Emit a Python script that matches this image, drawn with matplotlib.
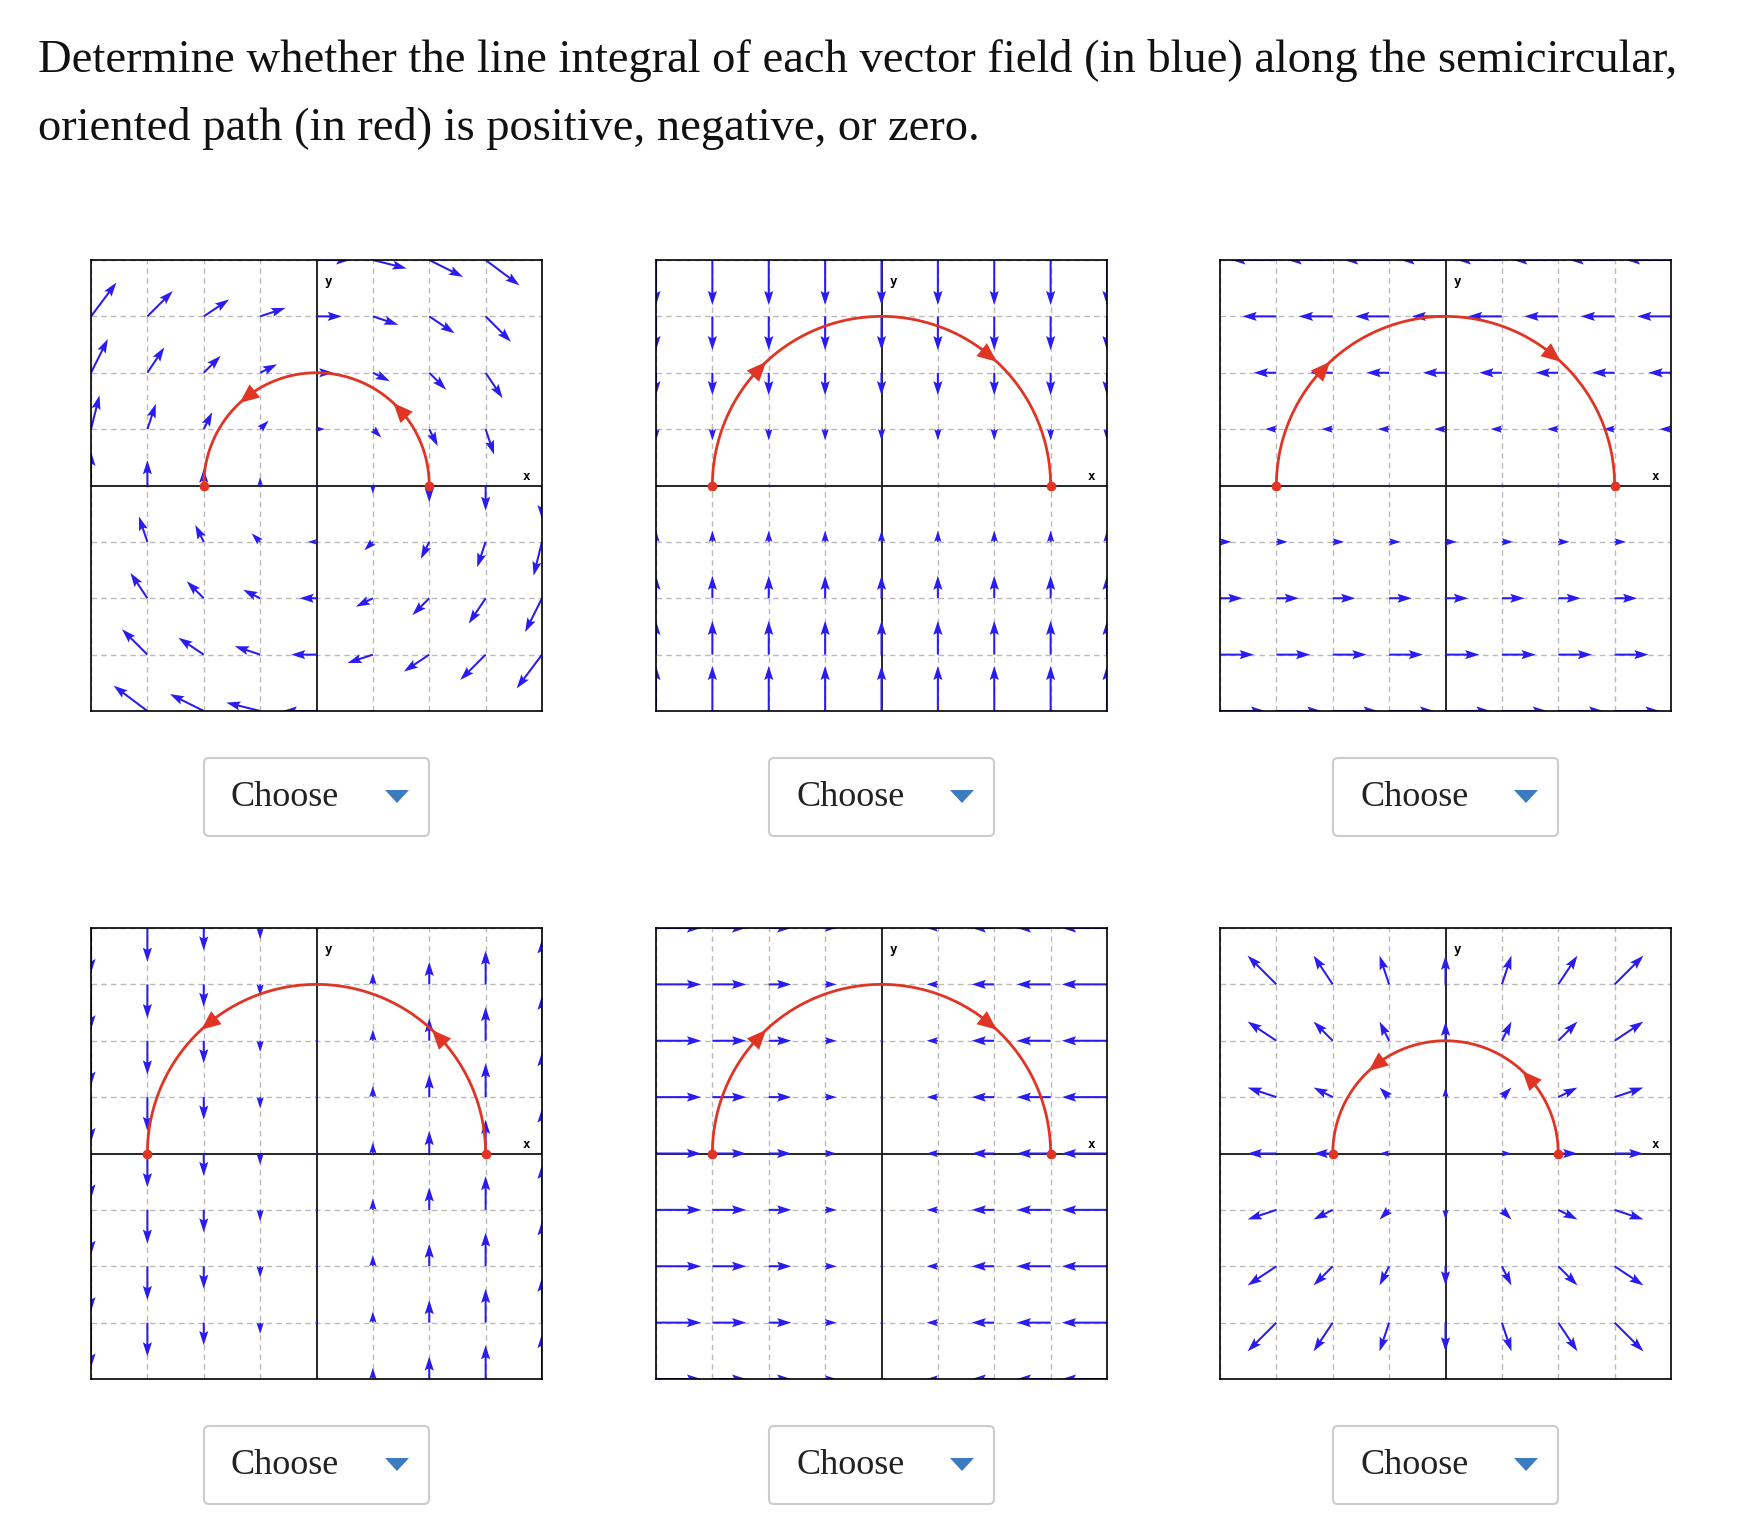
import numpy as np
import matplotlib
matplotlib.use("Agg")
import matplotlib.pyplot as plt
from matplotlib.patches import FancyBboxPatch, Polygon

title_lines = ["Determine whether the line integral of each vector field (in blue) along the semicircular,",
               "oriented path (in red) is positive, negative, or zero."]
grid_vals = [-4, -3, -2, -1, 0, 1, 2, 3, 4]
fields = [
    dict(u=(0, 1), v=(-1, 0), k=0.15, r=2, ccw=True),   # rotation
    dict(u=(0, 0), v=(0, -1), k=0.2, r=3, ccw=False),
    dict(u=(0, -1), v=(0, 0), k=0.2, r=3, ccw=False),
    dict(u=(0, 0), v=(1, 0), k=0.2, r=3, ccw=True),
    dict(u=(-1, 0), v=(0, 0), k=0.2, r=3, ccw=False),
    dict(u=(1, 0), v=(0, 1), k=0.17, r=2, ccw=True),    # radial
]
dropdown_label = "Choose"

W, H = 1739, 1517
fig = plt.figure(figsize=(W/100, H/100), dpi=100)
fig.patch.set_facecolor("white")

for i, line in enumerate(title_lines):
    fig.text(38/W, 1-(61+67*i)/H, line, fontsize=33.5, family="Liberation Serif",
             va="center", ha="left", color="#111111")

col_x = [91, 656, 1220]
row_y = [260, 928]
size = 451
blue = "#2a1cf0"
red = "#e03524"

X, Y = np.meshgrid(np.array(grid_vals, float), np.array(grid_vals, float))
for idx, f in enumerate(fields):
    c, r = idx % 3, idx // 3
    x0, y0 = col_x[c], row_y[r]
    ax = fig.add_axes([x0/W, 1-(y0+size)/H, size/W, size/H])
    ax.set_xlim(-4, 4); ax.set_ylim(-4, 4)
    ax.set_xticks([]); ax.set_yticks([])
    for g in grid_vals:
        if g != 0:
            ax.axhline(g, color="#bbbbbb", lw=1, ls=(0, (4, 3)), zorder=0)
            ax.axvline(g, color="#bbbbbb", lw=1, ls=(0, (4, 3)), zorder=0)
    ax.axhline(0, color="black", lw=1.2, zorder=1)
    ax.axvline(0, color="black", lw=1.2, zorder=1)
    for s in ax.spines.values():
        s.set_linewidth(1.2)
    U = f["u"][0]*X + f["u"][1]*Y
    V = f["v"][0]*X + f["v"][1]*Y
    ax.quiver(X, Y, U*f["k"], V*f["k"], angles="xy", scale_units="xy", scale=1,
              color=blue, width=0.0045, headwidth=4.5, headlength=7, headaxislength=6,
              zorder=2, clip_on=True)
    ax.text(0.15, 3.55, "y", fontsize=9, fontweight="bold", family="DejaVu Sans Mono")
    ax.text(3.65, 0.1, "x", fontsize=9, fontweight="bold", family="DejaVu Sans Mono")
    R = f["r"]
    t = np.linspace(0, np.pi, 200)
    ax.plot(R*np.cos(t), R*np.sin(t), color=red, lw=2, zorder=3)
    ax.plot([-R, R], [0, 0], "o", color=red, ms=6, zorder=4)
    for th in (np.radians(47), np.radians(133)):
        d = 0.15 if f["ccw"] else -0.15
        p1 = (R*np.cos(th), R*np.sin(th))
        p0 = (R*np.cos(th-d), R*np.sin(th-d))
        ax.annotate("", xy=p1, xytext=p0,
                    arrowprops=dict(arrowstyle="-|>,head_length=1.4,head_width=0.6",
                                    color=red, lw=0, shrinkA=0, shrinkB=0), zorder=5)
    bx, by, bw, bh = x0+111, y0+496, 229, 82
    dax = fig.add_axes([bx/W, 1-(by+bh)/H, bw/W, bh/H])
    dax.set_xlim(0, bw); dax.set_ylim(0, bh); dax.axis("off")
    dax.add_patch(FancyBboxPatch((2, 2), bw-4, bh-4, boxstyle="round,pad=0,rounding_size=5",
                                 fc="white", ec="#cccccc", lw=1.5))
    dax.text(29, bh/2, dropdown_label, fontsize=26, family="Liberation Serif",
             va="center", ha="left", color="#222222")
    dax.add_patch(Polygon([[183, 48], [207, 48], [195, 35]], closed=True, fc="#3b7bbf", ec="none"))

fig.savefig("out.png", dpi=100)
